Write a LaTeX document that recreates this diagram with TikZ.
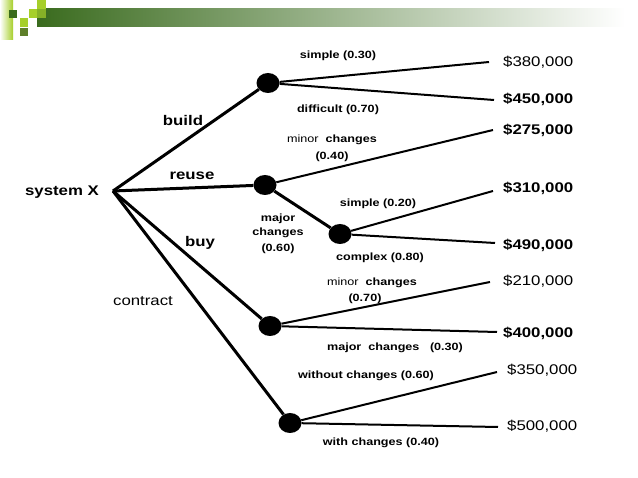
\documentclass[tikz,border=0pt]{standalone}
\usepackage{fontspec}
\setmainfont{Liberation Sans}[FakeStretch=1.2]
\usetikzlibrary{shapes.geometric}
\definecolor{lgreen}{HTML}{A6CF2A}
\definecolor{dgreen}{HTML}{3A6B1E}
\definecolor{midg}{HTML}{A3B39A}
\definecolor{olive}{HTML}{5E7F2A}
\definecolor{sqdark}{HTML}{3A6B1C}
\begin{document}
\begin{tikzpicture}[x=1pt,y=-1pt,
  chance/.style={ellipse,fill=black,minimum width=23pt,minimum height=20pt,inner sep=0pt},
  trunk/.style={line width=3pt},
  twig/.style={line width=2pt},
  lab/.style={font=\fontsize{10.5}{12}\selectfont\bfseries,inner sep=0pt},
  labr/.style={font=\fontsize{10.5}{12}\selectfont,inner sep=0pt},
  big/.style={font=\fontsize{14}{16}\selectfont\bfseries,inner sep=0pt},
  bigr/.style={font=\fontsize{14}{16}\selectfont,inner sep=0pt},
  amt/.style={font=\fontsize{14}{16}\selectfont,anchor=west,inner sep=0pt},
  amtb/.style={font=\fontsize{14}{16}\selectfont\bfseries,anchor=west,inner sep=0pt},
]
\useasboundingbox (0,0) rectangle (638,478);
\fill[white] (0,0) rectangle (638,478);
% header decoration
\shade[left color=white,right color=lgreen] (0,0) rectangle (13,40);
\shade[left color=dgreen,middle color=midg,right color=white] (37,9) rectangle (625,27);
\fill[sqdark] (9,10) rectangle (17,18);
\fill[lgreen] (29,9) rectangle (37,18);
\fill[lgreen] (37,0) rectangle (46,9);
\fill[lgreen!70!dgreen] (37,9) rectangle (46,18);
\fill[lgreen] (20,18) rectangle (28,27);
\fill[olive] (20,28) rectangle (28,36);

% tree points
\coordinate (sx) at (113,191);
\node[chance] (nb) at (268,83) {};
\node[chance] (nr) at (265,185) {};
\node[chance] (nm) at (340,234) {};
\node[chance] (nbuy) at (270,326) {};
\node[chance] (nc) at (290,423) {};
\coordinate (e1) at (489,62);
\coordinate (e2) at (494,100);
\coordinate (e3) at (493,130);
\coordinate (e4) at (493,191);
\coordinate (e5) at (495,243);
\coordinate (e6) at (490,282);
\coordinate (e7) at (497,332);
\coordinate (e8) at (497,372);
\coordinate (e9) at (498,427);

\draw[trunk] (sx) -- (nb);
\draw[trunk] (sx) -- (nr);
\draw[trunk] (sx) -- (nbuy);
\draw[trunk] (sx) -- (nc);
\draw[trunk] (nr) -- (nm);
\draw[twig] (nb) -- (e1);
\draw[twig] (nb) -- (e2);
\draw[twig] (nr) -- (e3);
\draw[twig] (nm) -- (e4);
\draw[twig] (nm) -- (e5);
\draw[twig] (nbuy) -- (e6);
\draw[twig] (nbuy) -- (e7);
\draw[twig] (nc) -- (e8);
\draw[twig] (nc) -- (e9);

% outcome amounts
\node[amt]  (a1) at (503,62) {\$380,000};
\node[amtb] (a2) at (503,99) {\$450,000};
\node[amtb] (a3) at (503,130) {\$275,000};
\node[amtb] (a4) at (503,188) {\$310,000};
\node[amtb] (a5) at (503,245) {\$490,000};
\node[amt]  (a6) at (503,281) {\$210,000};
\node[amtb] (a7) at (503,333) {\$400,000};
\node[amt]  (a8) at (507,370) {\$350,000};
\node[amt]  (a9) at (507,426) {\$500,000};

% labels
\node[big]  (lsx) at (62,192) {system X};
\node[big]  (lbu) at (183,120) {build};
\node[big]  (lre) at (192,176) {reuse};
\node[big]  (lby) at (200,243) {buy};
\node[bigr] (lco) at (143,301) {contract};
\node[lab] (l1) at (338,56) {simple (0.30)};
\node[lab] (l2) at (338,110) {difficult (0.70)};
\node[lab] (l3) at (332,140) {\mdseries minor\ \ \bfseries changes};
\node[lab] (l3b) at (332,157) {(0.40)};
\node[lab] (l4a) at (278,219) {major};
\node[lab] (l4b) at (278,233) {changes};
\node[lab] (l4c) at (278,249) {(0.60)};
\node[lab] (l5) at (378,204) {simple (0.20)};
\node[lab] (l6) at (380,258) {complex (0.80)};
\node[lab] (l7) at (372,283) {\mdseries minor\ \ \bfseries changes};
\node[lab] (l7b) at (365,299) {(0.70)};
\node[lab] (l8) at (395,348) {major\ \ changes\ \ \ (0.30)};
\node[lab] (l9) at (366,376) {without changes (0.60)};
\node[lab] (l10) at (381,443) {with changes (0.40)};
\end{tikzpicture}
\end{document}
